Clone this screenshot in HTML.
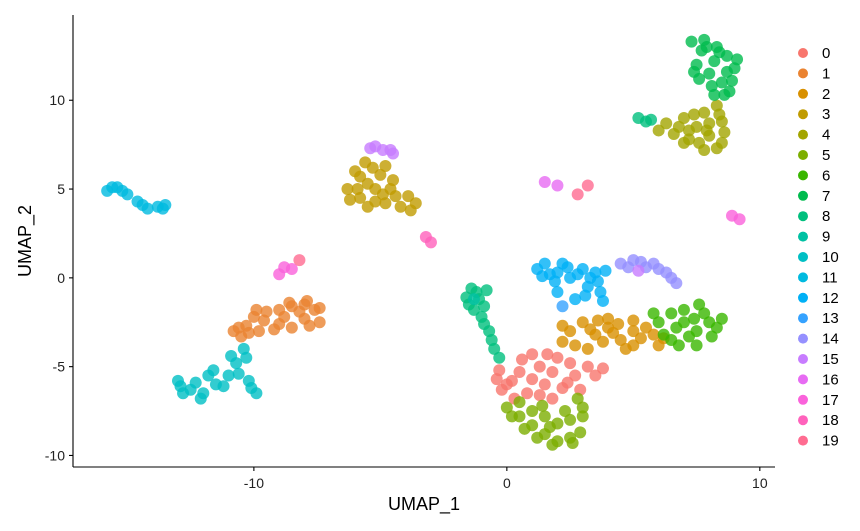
<!DOCTYPE html>
<html><head><meta charset="utf-8">
<style>
html,body{margin:0;padding:0;background:#fff;}
svg{display:block;font-family:"Liberation Sans",sans-serif;}
</style></head>
<body>
<svg id="chart" width="860" height="531" viewBox="0 0 860 531"></svg>
<script>
const clusterNames = ["0","1","2","3","4","5","6","7","8","9","10","11","12","13","14","15","16","17","18","19"];
const clusterColors = ["#F8766D","#EA8331","#D89000","#C09B00","#A3A500","#7CAE00","#39B600","#00BB4E","#00BF7D","#00C1A3","#00BFC4","#00BAE0","#00B0F6","#35A2FF","#9590FF","#C77CFF","#E76BF3","#FA62DB","#FF62BC","#FF6C91"];
const xTicks = [-10, 0, 10];
const yTicks = [-10, -5, 0, 5, 10];
const c0 = [[-0.3,-5.2],[0,-6],[0.5,-5.3],[0.8,-6.5],[1.3,-5],[1.5,-6],[2,-4.5],[2.2,-6.2],[2.7,-5.5],[3.2,-5],[1,-4.3],[0.3,-6.8],[1.8,-6.8],[-0.2,-6.3],[0.2,-5.8],[1,-5.7],[1.8,-5.3],[2.5,-4.8],[3.5,-5.5],[1.3,-6.6],[0.6,-4.6],[1.6,-4.3],[2.4,-5.9],[-0.4,-5.7],[3.8,-5.1],[2.9,-6.3]];
const c1 = [[-10.8,-3],[-10.3,-2.7],[-10,-2.2],[-9.5,-1.9],[-9,-1.8],[-8.5,-1.6],[-8,-1.5],[-7.6,-1.8],[-7.4,-2.5],[-8,-2.3],[-9,-2.6],[-9.8,-3],[-10.5,-3.3],[-8.5,-2.8],[-10.2,-3.1],[-9.6,-2.4],[-8.8,-2.2],[-8.2,-1.9],[-7.8,-2.7],[-7.4,-1.7],[-9.2,-2.9],[-10.6,-2.8],[-9.9,-1.8],[-8.6,-1.4],[-7.9,-1.3]];
const c2 = [[2.5,-3],[3,-2.5],[3.5,-3.2],[4,-2.8],[4.5,-3.5],[5,-3],[5.5,-2.8],[5,-3.8],[3.2,-4],[6,-3.8],[4,-2.3],[2.2,-3.6],[3.8,-3.6],[4.4,-2.6],[5.3,-3.4],[4.7,-4],[3.3,-2.9],[5.8,-3.2],[2.7,-3.8],[4.2,-3.1],[5,-2.4],[2.2,-2.7],[6.2,-3.4],[3.6,-2.4]];
const c3 = [[-6.3,5],[-5.8,4.5],[-5.8,5.7],[-5.3,6.2],[-5.2,5],[-4.8,4.2],[-4.5,5.5],[-4.2,4],[-3.8,3.8],[-5.5,4],[-6,6],[-4.8,6.3],[-5.5,5.3],[-5,5.8],[-4.9,4.7],[-5.9,5],[-6.2,4.4],[-4.4,4.6],[-3.6,4.2],[-5.2,4.3],[-4.6,5],[-5.6,6.5],[-3.9,4.6]];
const c4 = [[6.3,8.7],[6.8,8.5],[7.2,7.8],[7.5,8.5],[7.8,9.3],[8,8],[8.3,7.3],[8.5,8.8],[7.8,7.2],[7,9],[8.3,9.7],[6,8.3],[7.2,8.3],[7.6,7.6],[8,8.7],[8.6,8.2],[7.4,9.2],[6.6,8.1],[7.9,8.3],[8.5,7.6],[7,7.6],[8.4,9.2]];
const c5 = [[0,-7.3],[0.5,-7.8],[1,-8.3],[1.5,-8.8],[2,-9.2],[2.5,-9],[3,-7.8],[2.5,-8],[1.5,-7.8],[0.5,-7],[2.8,-6.8],[1,-7.5],[2,-8.2],[1.2,-9],[2.9,-8.7],[0.2,-7.8],[1.7,-8.4],[2.3,-7.5],[0.7,-8.5],[2.6,-9.3],[1.8,-9.4],[3,-7.3],[1.4,-7.2]];
const c6 = [[6.5,-3.5],[7,-2.5],[7.5,-3],[8,-2.5],[7,-1.8],[6.5,-2],[8.3,-2.8],[7.5,-3.8],[6,-2.5],[7.2,-3.3],[7.8,-2],[6.7,-2.8],[8.1,-3.3],[7.4,-2.3],[6.2,-3.2],[7.6,-1.5],[6.8,-3.8],[8.5,-2.3],[5.8,-2]];
const c7 = [[7.3,13.3],[7.8,13.4],[8.3,13],[8.7,12.5],[9,11.8],[8.5,11],[8,11.5],[7.5,12],[8.8,10.5],[8.2,10.3],[7.7,12.8],[8.2,12.2],[8.7,11.6],[9.1,12.3],[8.4,12.7],[7.6,11.2],[8.1,10.8],[8.9,11.1],[7.9,13],[8.6,10.3],[7.4,11.6]];
const c8 = [[-1.5,-1.5],[-1.2,-0.8],[-0.8,-0.7],[-1,-2.2],[-0.7,-3],[-0.5,-4],[5.2,9],[5.7,8.9],[-1.6,-1.1],[-1.3,-1.8],[-1.1,-1.2],[-0.9,-2.6],[-0.6,-3.5],[-0.3,-4.5],[-1.4,-0.6],[-0.9,-1.6],[5.5,8.8]];
const c9 = [[-1.3,-1.2]];
const c10 = [[-13,-5.8],[-12.5,-6.3],[-12,-6.5],[-11.5,-6],[-11,-5.5],[-10.7,-4.8],[-10.4,-4],[-10.2,-5.8],[-9.9,-6.5],[-11.8,-5.5],[-12.8,-6.5],[-12.3,-5.9],[-11.2,-6.1],[-10.6,-5.4],[-10.1,-6.2],[-12.9,-6.1],[-11.6,-5.2],[-10.9,-4.4],[-10.3,-4.5],[-12.1,-6.8]];
const c11 = [[-15.8,4.9],[-15.4,5.1],[-15,4.7],[-14.6,4.3],[-14.2,3.9],[-13.8,4.0],[-13.5,4.1],[-15.6,5.1],[-15.2,4.9],[-14.4,4.1],[-13.6,3.9]];
const c12 = [[1.2,0.5],[1.7,0.2],[2.2,0.8],[2.5,0],[3,0.5],[3.5,0.3],[3.7,-0.8],[3.2,-0.5],[2,-0.8],[2.7,-1.2],[3.8,-1.3],[1.5,0.8],[2,0.3],[2.8,0.2],[3.3,0],[1.9,-0.2],[2.4,0.6],[3.6,-0.2],[3.1,-1],[1.4,0.1],[3.9,0.4]];
const c13 = [[2.2,-1.6]];
const c14 = [[4.5,0.8],[5,1],[5.5,0.6],[6,0.5],[6.5,0],[6.7,-0.3],[4.8,0.6],[5.3,0.9],[5.8,0.8],[6.3,0.3]];
const c15 = [[-5.4,7.3],[-4.9,7.2],[-4.5,7.0],[5.2,0.4],[-5.2,7.4],[-4.6,7.2]];
const c16 = [[1.5,5.4],[2,5.2]];
const c17 = [[-9,0.2],[-8.8,0.6],[-8.5,0.5],[8.9,3.5],[9.2,3.3]];
const c18 = [[-3.2,2.3],[-3,2]];
const c19 = [[2.8,4.7],[3.2,5.2],[-8.2,1]];
const clusterPoints = [c0,c1,c2,c3,c4,c5,c6,c7,c8,c9,c10,c11,c12,c13,c14,c15,c16,c17,c18,c19];

const NS = "http://www.w3.org/2000/svg";
const svg = document.getElementById("chart");
const L=73, R=775, T=15, B=467;
const xMin=-17.15, xMax=10.6, yMin=-10.65, yMax=14.8;
const sx = v => L + (v - xMin) / (xMax - xMin) * (R - L);
const sy = v => B - (v - yMin) / (yMax - yMin) * (B - T);
function mk(tag, attrs, parent){ const e=document.createElementNS(NS,tag); for(const k in attrs) e.setAttribute(k,attrs[k]); (parent||svg).appendChild(e); return e; }

const pts = mk("g",{});


clusterPoints.forEach((arr,ci)=>{
  const g = mk("g",{fill:clusterColors[ci],"fill-opacity":"0.8"},pts);
  
  
  arr.forEach(p=>{
    const c = mk("circle",{cx:sx(p[0]),cy:sy(p[1]),r:6},g);
    
    
  });
});

const ax = mk("g",{stroke:"#000","stroke-width":"1.1",fill:"none"});


mk("line",{x1:L,y1:T,x2:L,y2:B},ax);
mk("line",{x1:L,y1:B,x2:R,y2:B},ax);
xTicks.forEach(t=>{
  mk("line",{x1:sx(t),y1:B,x2:sx(t),y2:B+4},ax);
  const tx = mk("text",{x:sx(t),y:B+21,"text-anchor":"middle","font-size":"14",fill:"#222"});
  tx.textContent = t;
  
  
});
yTicks.forEach(t=>{
  mk("line",{x1:L-4,y1:sy(t),x2:L,y2:sy(t)},ax);
  const tx = mk("text",{x:L-8,y:sy(t)+5,"text-anchor":"end","font-size":"14",fill:"#222"});
  tx.textContent = t;
  
  
});
const xt = mk("text",{x:(L+R)/2,y:510,"text-anchor":"middle","font-size":"18",fill:"#000"});
xt.textContent="UMAP_1";


const yt = mk("text",{x:31,y:(T+B)/2,"text-anchor":"middle","font-size":"18",fill:"#000",transform:"rotate(-90 31 "+((T+B)/2)+")"});
yt.textContent="UMAP_2";



const lg = mk("g",{});


clusterNames.forEach((n,i)=>{
  const y = 53 + i*20.4;
  const e = mk("g",{},lg);
  
  
  mk("circle",{cx:803,cy:y,r:5,fill:clusterColors[i]},e);
  const t = mk("text",{x:822,y:y+5,"font-size":"15",fill:"#000"},e);
  t.textContent = n;
});
</script>
</body></html>
